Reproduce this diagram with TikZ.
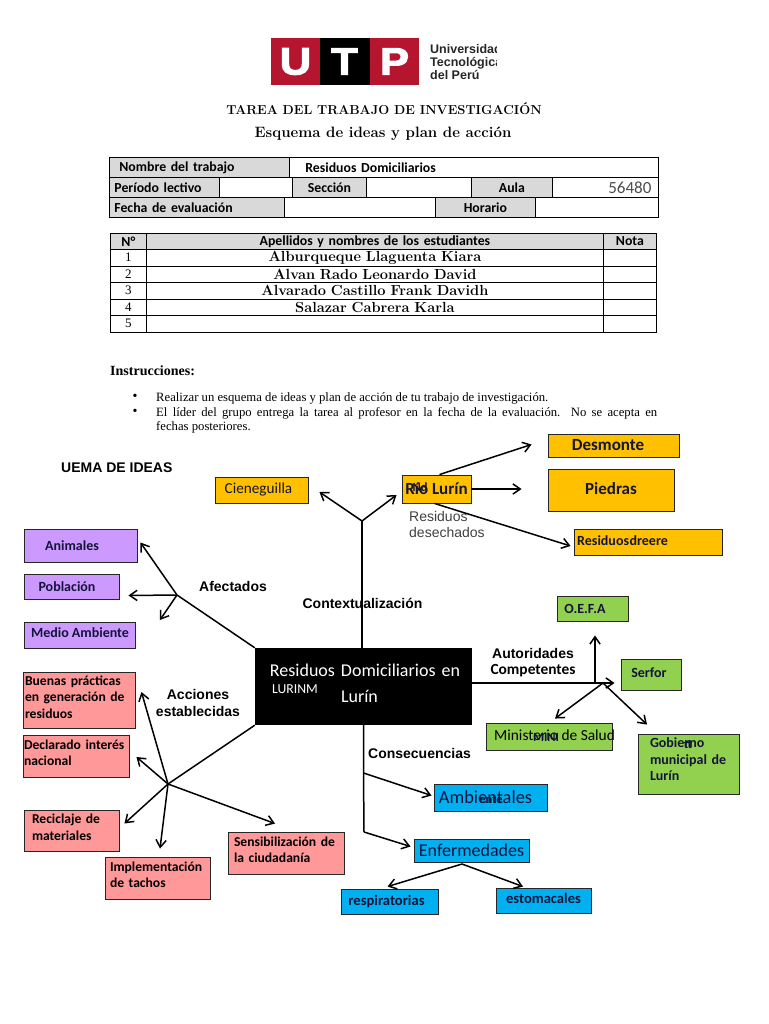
\documentclass[tikz,border=0pt]{standalone}
\usepackage{fontspec}
\usetikzlibrary{positioning,arrows.meta,calc}
\setsansfont{Liberation Sans}
\newfontfamily\calibri{Carlito}
\newfontfamily\timesfont{Liberation Serif}
\newfontfamily\logofont{Liberation Sans}[BoldFeatures={FakeBold=3,FakeStretch=1.15}]
\newcommand{\padbelow}[1]{\par\vspace{#1}}
\definecolor{utpRed}{HTML}{B5152F}
\definecolor{cellGray}{HTML}{D9D9D9}
\definecolor{orangeFill}{HTML}{FFC000}
\definecolor{purpleFill}{HTML}{CC99FF}
\definecolor{redFill}{HTML}{FF9999}
\definecolor{greenFill}{HTML}{92D050}
\definecolor{blueFill}{HTML}{00B0F0}
\definecolor{inkNavy}{HTML}{14143C}
\definecolor{softText}{HTML}{404040}

\begin{document}
\begin{tikzpicture}[
    x=1pt, y=-1pt,
    >={Straight Barb[length=2.6mm,width=3.6mm]},
    cell/.style={draw, line width=0.8pt, anchor=north west, inner xsep=0pt, inner ysep=0pt,
      minimum height=#1, font=\calibri\fontsize{13.8}{15}\selectfont\bfseries, align=center},
    gcell/.style={cell=#1, fill=cellGray},
    namerow/.style={cell=#1, font=\rmfamily\fontsize{14.6}{15}\selectfont\bfseries},
    logoletter/.style={white, font=\logofont\fontsize{38}{38}\selectfont\bfseries, inner sep=0pt},
    idea/.style={draw=black!85, line width=0.9pt, inner sep=0pt, font=\calibri\fontsize{14}{16.5}\selectfont\bfseries,
      text=inkNavy},
    topic/.style={font=\sffamily\fontsize{14}{17}\selectfont\bfseries, inner sep=0pt, align=center},
    ctxbox/.style={idea, fill=orangeFill},
    afebox/.style={idea, fill=purpleFill},
    accbox/.style={idea, fill=redFill, text=black, align=left, font=\calibri\fontsize{13.6}{16.5}\selectfont\bfseries,
      execute at end node={\padbelow{6pt}}},
    autbox/.style={idea, fill=greenFill},
    conbox/.style={idea, fill=blueFill},
    garbled/.style={inner sep=0pt, font=\calibri\fontsize{12.5}{13}\selectfont\bfseries, text=inkNavy},
    arr/.style={->, line width=1.5pt, black},
    lin/.style={line width=1.5pt, black},
  ]
\useasboundingbox (0,0) rectangle (768,1024);

% ===== logo =====
\fill[utpRed] (271,38) rectangle (419,85);
\fill[black] (320,38) rectangle (370,85);
\node[logoletter] (logoU) at (295.5,61.5) {U};
\node[logoletter] (logoT) at (344.5,61.5) {T};
\node[logoletter] (logoP) at (394.5,61.5) {P};
\begin{scope}
  \clip (425,38) rectangle (496,88);
  \node[anchor=west, inner sep=0pt, align=left, font=\sffamily\fontsize{12.5}{12.6}\selectfont\bfseries, text=black!85]
    (logoText) at (430,62) {Universidad\\Tecnológica\\del Perú};
\end{scope}

% ===== titles =====
\node[font=\rmfamily\fontsize{13}{15}\selectfont\bfseries] (title) at (384,109) {TAREA DEL TRABAJO DE INVESTIGACIÓN};
\node[font=\rmfamily\fontsize{15}{17}\selectfont\bfseries] (subtitle) at (383,134) {Esquema de ideas y plan de acción};

% ===== datos del trabajo =====
\node[gcell=20pt, text width=180pt, align=left] (c11) at (109,157) {\hspace*{10pt}Nombre del trabajo};
\node[cell=20pt, text width=369pt, align=left] (c12) at (289,157) {\hspace*{16pt}Residuos Domiciliarios};
\node[gcell=20pt, text width=110pt, align=left] (c21) at (109,177) {\hspace*{5pt}Período lectivo};
\node[cell=20pt, text width=73pt] (c22) at (219,177) {};
\node[gcell=20pt, text width=74pt] (c23) at (292,177) {Sección};
\node[cell=20pt, text width=105pt] (c24) at (366,177) {};
\node[gcell=20pt, text width=81pt] (c25) at (471,177) {Aula};
\node[cell=20pt, text width=106pt, align=right, font=\calibri\fontsize{17}{17}\selectfont, text=black!70] (c26) at (552,177) {56480\hspace*{7pt}};
\node[gcell=20pt, text width=175pt, align=left] (c31) at (109,197) {\hspace*{5pt}Fecha de evaluación};
\node[cell=20pt, text width=151pt] (c32) at (284,197) {};
\node[gcell=20pt, text width=100pt] (c33) at (435,197) {Horario};
\node[cell=20pt, text width=123pt] (c34) at (535,197) {};

% ===== estudiantes =====
\node[gcell=16pt, text width=36pt] (hN) at (110,233) {N°};
\node[gcell=16pt, text width=457pt] (hName) at (146,233) {Apellidos y nombres de los estudiantes};
\node[gcell=16pt, text width=53pt] (hNota) at (603,233) {Nota};
\foreach \n/\who/\yy in {1/Alburqueque Llaguenta Kiara/249, 2/Alvan Rado Leonardo David/265.5,
    3/Alvarado Castillo Frank Davidh/282, 4/Salazar Cabrera Karla/298.5, 5/{}/315} {
  \node[cell=16.5pt, text width=36pt, font=\timesfont\fontsize{13}{14}\selectfont] (num\n) at (110,\yy) {\n};
  \node[namerow=16.5pt, text width=457pt] (who\n) at (146,\yy) {\who};
  \node[cell=16.5pt, text width=53pt] (nota\n) at (603,\yy) {};
}

% ===== instrucciones =====
\node[anchor=west, inner sep=0pt, font=\timesfont\fontsize{14}{16}\selectfont\bfseries] (instr) at (110,371) {Instrucciones:};
\node[inner sep=0pt, font=\timesfont\fontsize{14}{14}\selectfont] (bul1) at (135,397) {\textbullet};
\node[anchor=west, inner sep=0pt, font=\timesfont\fontsize{12.7}{14}\selectfont] (item1) at (156,398)
  {Realizar un esquema de ideas y plan de acción de tu trabajo de investigación.};
\node[inner sep=0pt, font=\timesfont\fontsize{14}{14}\selectfont] (bul2) at (135,412) {\textbullet};
\node[anchor=north west, inner sep=0pt, text width=501pt, align=justify, font=\timesfont\fontsize{12.7}{14.5}\selectfont] (item2) at (156,407)
  {El líder del grupo entrega la tarea al profesor en la fecha de la evaluación.\ \ No se acepta en\linebreak fechas posteriores.};

\node[anchor=west, inner sep=0pt, font=\sffamily\fontsize{14}{16}\selectfont\bfseries] (esquema) at (61,468) {UEMA DE IDEAS};

% ===== central node =====
\node[fill=black, text=white, minimum width=217pt, minimum height=77pt, inner sep=0pt, text width=217pt, align=center,
  font=\calibri\fontsize{18}{26}\selectfont, execute at end node={\padbelow{6pt}}] (center) at (363.5,686.5) {\hspace*{3pt}Residuos Domiciliarios en\\Lurín\hspace*{8pt}};
\node[anchor=west, inner sep=0pt, text=white, font=\calibri\fontsize{13.7}{15}\selectfont] (lurinm) at (272,689) {LURINM};

% ===== contextualización =====
\node[ctxbox, minimum width=93pt, minimum height=26pt, font=\calibri\fontsize{15.2}{16}\selectfont] (ciene) at (261.5,490) {\raisebox{1pt}{Cieneguilla}\hspace*{6pt}};
\node[ctxbox, minimum width=69pt, minimum height=28pt, font=\calibri\fontsize{17}{18}\selectfont\bfseries] (rio) at (436.5,489) {Río Lurín};
\node[garbled] (rioOver) at (420,487) {Nd};
\node[ctxbox, minimum width=131pt, minimum height=23pt, font=\calibri\fontsize{17}{18}\selectfont\bfseries] (desmonte) at (613.5,445.5) {\raisebox{-1.5pt}{Desmonte}\hspace*{11pt}};
\node[ctxbox, minimum width=126pt, minimum height=42pt, font=\calibri\fontsize{17}{18}\selectfont\bfseries] (piedras) at (611,490) {\raisebox{3pt}{Piedras}};
\node[ctxbox, minimum width=148pt, minimum height=26pt] (dreere) at (648,542) {};
\node[anchor=west, inner sep=0pt, font=\calibri\fontsize{14}{15}\selectfont\bfseries, text=inkNavy] (dreereText) at (577,541) {Residuos\hspace{0.5pt}dreere};
\node[anchor=north west, inner sep=0pt, align=left, text=softText, font=\sffamily\fontsize{14}{16.5}\selectfont] (desech) at (409,511) {Residuos\\desechados};
\node[topic] (contexto) at (362.5,603) {Contextualización};

\coordinate (topFork) at (362,521);
\draw[lin] (center.north -| topFork) -- (topFork);
\draw[arr] (topFork) -- ($(ciene.east)+(11,2)$);
\draw[arr] (topFork) -- ($(rio.west)+(-5,6)$);
\draw[arr] ($(rio.north)+(3,0)$) -- ($(desmonte.west)+(-16,-1)$);
\draw[arr] (rio.east) -- ($(piedras.west)+(-26,-1)$);
\draw[arr] ($(rio.south)+(-2,0)$) -- ($(dreere.west)+(-3,4)$);

% ===== afectados =====
\node[afebox, minimum width=113pt, minimum height=33pt] (animales) at (80.5,545.5) {Animales\hspace*{17pt}};
\node[afebox, minimum width=95pt, minimum height=25pt] (poblacion) at (71.5,586.5) {Población\hspace*{9pt}};
\node[afebox, minimum width=111pt, minimum height=26pt] (medio) at (80,635) {\raisebox{4pt}{Medio Ambiente}};
\node[topic] (afectados) at (233,586) {Afectados};

\coordinate (leftFork) at (177,595);
\draw[lin] (center.north west) -- (leftFork);
\draw[arr] (leftFork) -- ($(animales.east)+(3,-3)$);
\draw[arr] (leftFork) -- ($(poblacion.east)+(9,9)$);
\draw[arr] (leftFork) -- ($(medio.east)+(24,-15)$);

% ===== acciones =====
\node[accbox, minimum width=112pt, minimum height=56pt, text width=108pt] (buenas) at (79,700)
  {Buenas prácticas\\en generación de\\residuos};
\node[accbox, minimum width=106pt, minimum height=42pt, text width=104pt] (declarado) at (76,756)
  {Declarado interés\\nacional};
\node[accbox, minimum width=95pt, minimum height=41pt, text width=79pt] (reciclaje) at (71.5,830.5)
  {Reciclaje de\\materiales};
\node[accbox, minimum width=105pt, minimum height=42pt, text width=95pt] (tachos) at (157.5,878)
  {Implementación\\de tachos};
\node[accbox, minimum width=116pt, minimum height=42pt, text width=104pt] (sensi) at (286,853)
  {Sensibilización de\\la ciudadanía};
\node[topic] (acciones) at (198,702.5) {Acciones\\establecidas};

\coordinate (lowFork) at (168,784);
\draw[lin] (center.south west) -- (lowFork);
\draw[arr] (lowFork) -- ($(buenas.east)+(6,-8)$);
\draw[arr] (lowFork) -- ($(declarado.east)+(7,1)$);
\draw[arr] (lowFork) -- ($(reciclaje.east)+(5,-7)$);
\draw[arr] (lowFork) -- ($(tachos.north)+(2.5,-8)$);
\draw[arr] (lowFork) -- ($(sensi.north)+(-11,-8)$);

% ===== autoridades =====
\node[autbox, minimum width=71pt, minimum height=25pt] (oefa) at (592.5,608.5) {O.E.F.A\hspace*{15pt}};
\node[autbox, minimum width=60pt, minimum height=31pt] (serfor) at (651,674.5) {\raisebox{3pt}{Serfor}\hspace*{4pt}};
\node[autbox, minimum width=126pt, minimum height=27pt] (ministerio) at (549,736.5) {};
\node[anchor=west, inner sep=0pt, font=\calibri\fontsize{15.4}{16}\selectfont] (minText) at (494,735) {Ministerio de Salud};
\node[garbled] (minOver) at (546,737) {MINI};
\node[autbox, minimum width=101pt, minimum height=60pt, text width=77pt, align=left, execute at end node={\padbelow{9pt}}] (gobierno) at (688.5,764)
  {Gobierno\\municipal de\\Lurín};
\node[garbled] (gobOver) at (688,745) {tt};
\node[topic] (autoridades) at (533,653) {Autoridades};
\node[topic, font=\calibri\fontsize{15.4}{16}\selectfont\bfseries] (competentes) at (533,671) {Competentes};

\coordinate (rightUp) at (595,683);
\coordinate (rightFork) at (603,683);
\draw[arr] (center.east |- rightUp) -- ($(serfor.west)+(-6,8.5)$);
\draw[arr] (rightUp) -- ($(oefa.south)+(2.5,14)$);
\draw[arr] (rightFork) -- ($(ministerio.north)+(6,-4)$);
\draw[arr] (rightFork) -- ($(gobierno.north)+(-41.5,-9)$);

% ===== consecuencias =====
\node[conbox, minimum width=113pt, minimum height=27pt, font=\calibri\fontsize{18.4}{19}\selectfont] (ambient) at (490.5,797.5) {Ambientales\hspace*{10pt}};
\node[garbled] (ambOver) at (491,800) {ente};
\node[conbox, minimum width=115pt, minimum height=23pt, font=\calibri\fontsize{18}{19}\selectfont] (enferm) at (471.5,850.5) {Enfermedades};
\node[conbox, minimum width=97pt, minimum height=25pt, font=\calibri\fontsize{14.6}{16}\selectfont\bfseries] (respir) at (389.5,901.5) {respiratorias\hspace*{6pt}};
\node[conbox, minimum width=95pt, minimum height=25pt, font=\calibri\fontsize{14.6}{16}\selectfont\bfseries] (estom) at (543.5,900.5) {\raisebox{3.5pt}{estomacales}};
\node[topic] (consec) at (419.5,753) {Consecuencias};

\coordinate (midStem) at (363.5,773);
\coordinate (lowStem) at (364,832);
\coordinate (enfFork) at (462,864);
\draw[lin] (center.south) -- (midStem) -- (lowStem);
\draw[arr] (midStem) -- ($(ambient.west)+(-2,-2)$);
\draw[arr] (lowStem) -- ($(enferm.west)+(-3,-4)$);
\draw[arr] (enfFork) -- ($(respir.north)+(-2,-2)$);
\draw[arr] (enfFork) -- ($(estom.north)+(-20.5,-1)$);

\end{tikzpicture}
\end{document}
